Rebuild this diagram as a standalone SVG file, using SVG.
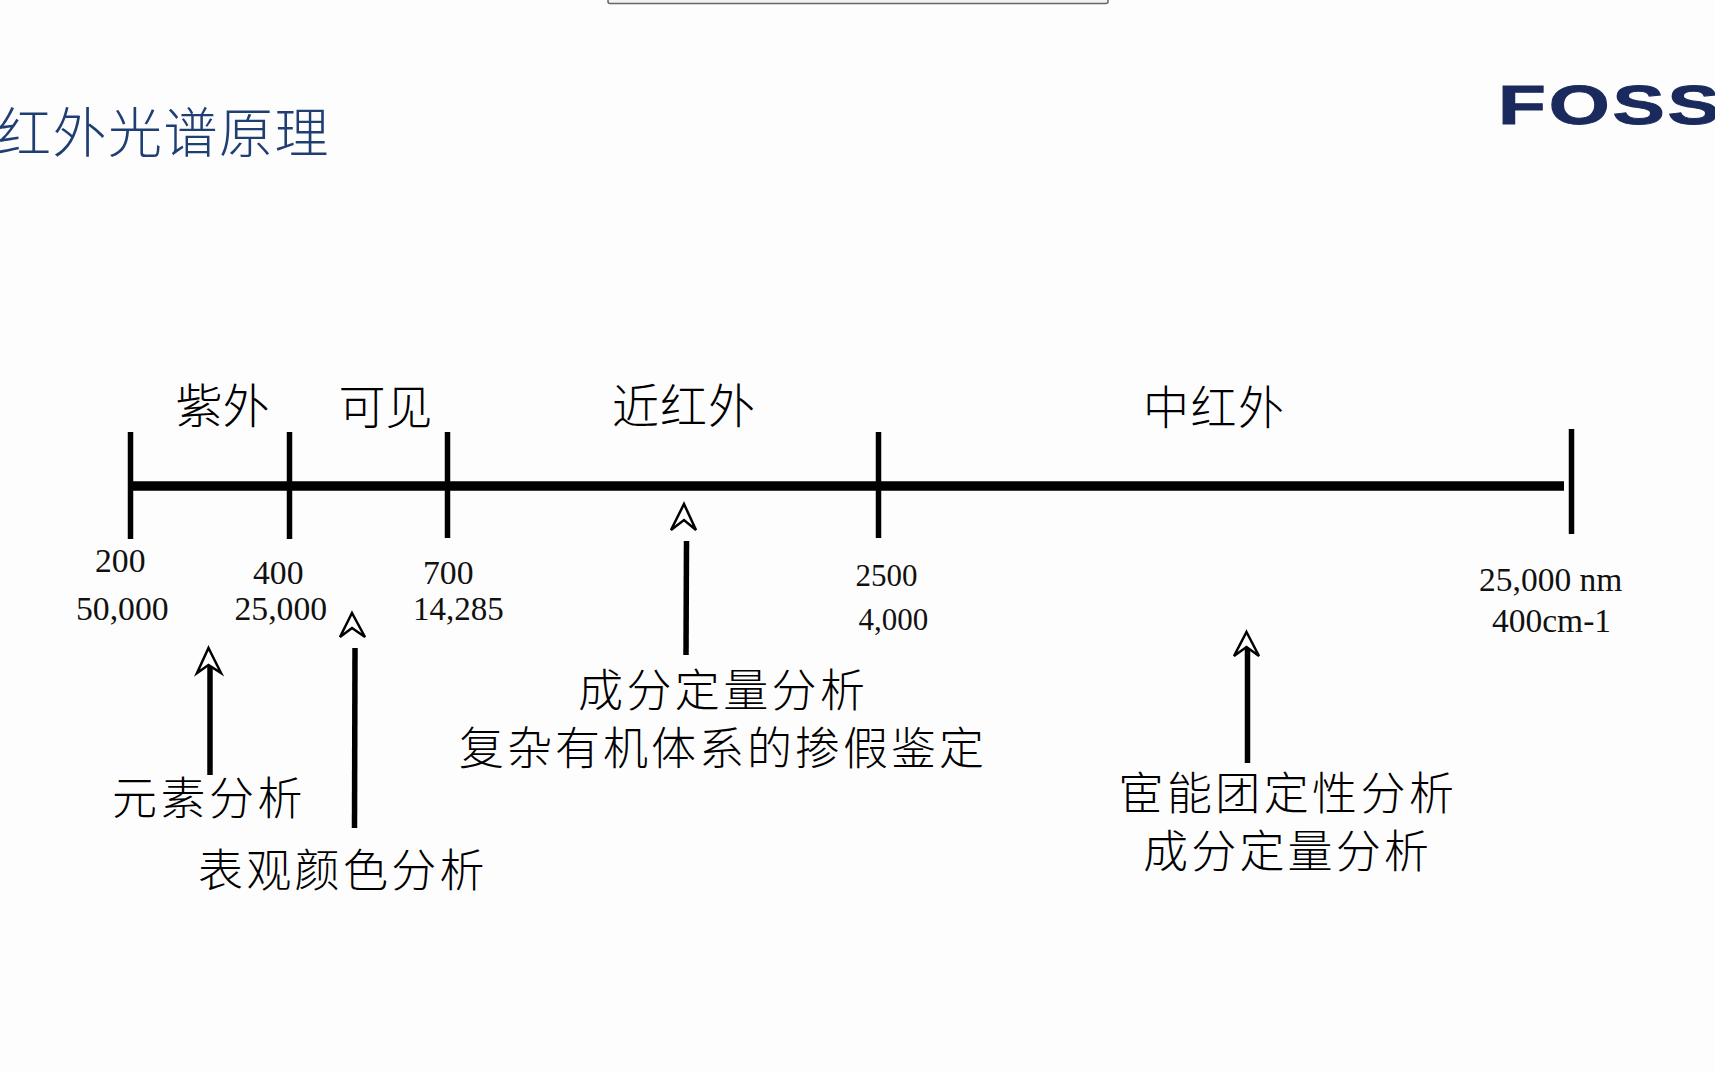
<svg xmlns="http://www.w3.org/2000/svg" width="1715" height="1072" viewBox="0 0 1715 1072">
<style>
.cjk{font-family:"Liberation Serif","Noto Sans CJK SC",serif;font-size:45px;font-weight:300;fill:#000}
.num{font-family:"Liberation Serif","Noto Sans CJK SC",serif;font-size:33.700px;fill:#111;text-anchor:start}
.tick{stroke:#000;stroke-width:5.500;fill:none}
.shaft{stroke:#000;stroke-width:5.500;fill:none}
.head{fill:#fff;stroke:#000;stroke-width:2.500;stroke-linejoin:miter}
</style>
<rect width="1715" height="1072" fill="#fefdfe"/>
<rect id="top-box" x="608" y="-6" width="500" height="9.500" rx="2" fill="#f3f1f3" stroke="#666" stroke-width="1.500"/>
<g id="title"><text x="-3" y="153" style="font-family:'Liberation Serif','Noto Sans CJK SC',serif;font-size:54px;font-weight:300;fill:#1f3f73;letter-spacing:1.500px">红外光谱原理</text></g>
<g id="logo"><text transform="translate(1498 124) scale(1.4 1)" x="0" y="0" style="font-family:'Liberation Sans',sans-serif;font-weight:700;font-size:56px;fill:#1b2a5c;stroke:#1b2a5c;stroke-width:1;letter-spacing:2px">FOSS</text></g>
<g id="connectors">
<line x1="133" y1="486" x2="1564" y2="486" stroke="#000" stroke-width="9.500"/>
<line class="tick" x1="130.500" y1="432" x2="130.500" y2="539"/>
<line class="tick" x1="289.500" y1="432" x2="289.500" y2="539"/>
<line class="tick" x1="447.500" y1="432" x2="447.500" y2="538"/>
<line class="tick" x1="878.500" y1="432" x2="878.500" y2="538"/>
<line class="tick" x1="1571.500" y1="429" x2="1571.500" y2="534"/>
<line class="shaft" x1="210" y1="775" x2="210" y2="665"/>
<line class="shaft" x1="355" y1="648" x2="354.500" y2="828"/>
<line class="shaft" x1="686.500" y1="541" x2="686" y2="655"/>
<line class="shaft" x1="1247.500" y1="763" x2="1247.500" y2="647"/>
<path class="head" d="M208.500 648 L221 673 L208.500 665 L197 673 Z"/>
<path class="head" d="M352 613 L365 637 L352 628 L340 637 Z"/>
<path class="head" d="M684 504 L696 530 L684 520 L671 530 Z"/>
<path class="head" d="M1246.500 632 L1259 656 L1246.500 647 L1234 656 Z"/>
</g>
<g id="band-uv"><text class="cjk" x="175.500" y="423" style="font-size:47px">紫外</text></g>
<g id="band-vis"><text class="cjk" x="338.500" y="424" style="font-size:47px">可见</text></g>
<g id="band-nir"><text class="cjk" x="612" y="423" style="font-size:47px;letter-spacing:1px">近红外</text></g>
<g id="band-mir"><text class="cjk" x="1143" y="424" style="font-size:46px;letter-spacing:1.500px">中红外</text></g>
<g id="tick-200"><text class="num" x="95" y="572">200</text><text class="num" x="76" y="620">50,000</text></g>
<g id="tick-400"><text class="num" x="253" y="584">400</text><text class="num" x="234.500" y="620">25,000</text></g>
<g id="tick-700"><text class="num" x="423" y="584">700</text><text class="num" x="413" y="620" style="font-size:33px">14,285</text></g>
<g id="tick-2500"><text class="num" x="855.500" y="586" style="font-size:31px">2500</text><text class="num" x="858.500" y="630" style="font-size:31px">4,000</text></g>
<g id="tick-25000"><text class="num" x="1479" y="591" style="font-size:33.500px">25,000 nm</text><text class="num" x="1492" y="632" style="font-size:33.500px">400cm-1</text></g>
<g id="label-element"><text class="cjk" x="112" y="815" style="letter-spacing:3.500px">元素分析</text></g>
<g id="label-colour"><text class="cjk" x="198" y="887" style="letter-spacing:3.300px">表观颜色分析</text></g>
<g id="label-nir"><text class="cjk" x="578" y="707" style="letter-spacing:3.400px">成分定量分析</text><text class="cjk" x="459" y="765" style="letter-spacing:3px">复杂有机体系的掺假鉴定</text></g>
<g id="label-mir"><text class="cjk" x="1118.500" y="810" style="letter-spacing:3.400px">宦能团定性分析</text><text class="cjk" x="1143" y="868" style="letter-spacing:3.200px">成分定量分析</text></g>
</svg>
